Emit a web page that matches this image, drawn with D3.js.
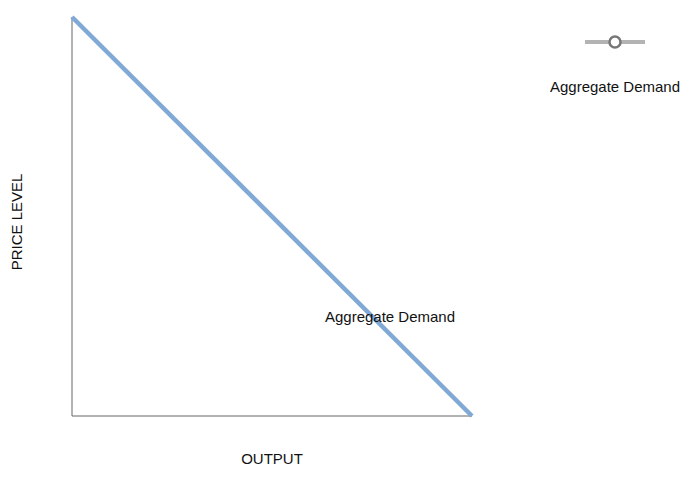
<!DOCTYPE html>
<html><head><meta charset="utf-8">
<script src="https://cdn.jsdelivr.net/npm/d3@7"></script>
<style>body{margin:0;background:#fff;}svg{display:block;font-family:"Liberation Sans",Arial,sans-serif;}</style>
</head><body>
<script>
const seriesName = "Aggregate Demand";
const xValues = [0, 10];
const yValues = [10, 0];
const xTitle = "OUTPUT";
const yTitle = "PRICE LEVEL";
const labelPoint = [7.95, 2.35];

const W = 684, H = 493;
const m = {l:72, t:17, r:212, b:77};
const svg = d3.select("body").append("svg").attr("width", W).attr("height", H);
const x = d3.scaleLinear().domain([0,10]).range([m.l, W - m.r]);
const y = d3.scaleLinear().domain([0,10]).range([H - m.b, m.t]);

svg.append("line").attr("x1", x(0)).attr("x2", x(0)).attr("y1", y(0)).attr("y2", y(10))
  .attr("stroke", "#666").attr("stroke-width", 1);
svg.append("line").attr("x1", x(0)).attr("x2", x(10)).attr("y1", y(0)).attr("y2", y(0))
  .attr("stroke", "#666").attr("stroke-width", 1);

const data = xValues.map((v,i)=>({x:v, y:yValues[i]}));
svg.append("path").datum(data)
  .attr("d", d3.line().x(d=>x(d.x)).y(d=>y(d.y)))
  .attr("fill","none").attr("stroke","#80aad5").attr("stroke-width",4.5);

svg.append("text").attr("x", x(labelPoint[0])).attr("y", 322)
  .attr("text-anchor","middle").attr("font-size",15).attr("fill","#111").text(seriesName);

svg.append("text").attr("x", (x(0)+x(10))/2).attr("y", 464)
  .attr("text-anchor","middle").attr("font-size",15).attr("fill","#111").text(xTitle);
svg.append("text").attr("transform", `translate(22,222) rotate(-90)`)
  .attr("text-anchor","middle").attr("font-size",15).attr("fill","#111").text(yTitle);

// legend
const lg = svg.append("g").attr("transform","translate(615,42)");
lg.append("line").attr("x1",-30).attr("x2",30).attr("stroke","#b3b3b3").attr("stroke-width",4);
lg.append("circle").attr("r",5.5).attr("fill","#fff").attr("stroke","#777").attr("stroke-width",2.5);
lg.append("text").attr("y",50).attr("text-anchor","middle").attr("font-size",15).attr("fill","#111").text(seriesName);
</script>
</body></html>
